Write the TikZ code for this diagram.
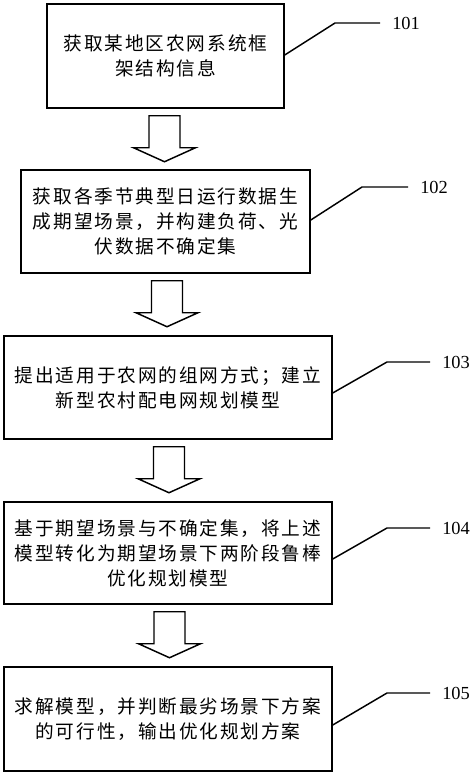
\documentclass[tikz,border=0pt]{standalone}
\usepackage{fontspec}
\setmainfont{Liberation Serif}
\newfontfamily\cjk[LetterSpace=10]{Noto Sans CJK SC}
\usetikzlibrary{calc}
\begin{document}
\begin{tikzpicture}[x=0.75pt,y=-0.75pt,
  box/.style={draw, line width=1.1pt, align=center, inner sep=0pt,
    font=\cjk\fontsize{14pt}{18.75pt}\selectfont},
  lbl/.style={font=\fontsize{13.8pt}{15pt}\selectfont, anchor=west, inner xsep=9pt, inner ysep=0pt},
  lead/.style={line width=1.1pt},
  arrowline/.style={draw, line width=1.1pt, line join=miter},
  barrow/.pic={\path[arrowline] (-15.5,0) -- (15.5,0) -- (15.5,32) -- (31,32) -- (0,46) -- (-31,32) -- (-15.5,32) -- cycle;}]
\useasboundingbox (0,0) rectangle (474,775);

\node[box, minimum width=177.75pt, minimum height=78pt] (b1) at (165.5,56)
  {获取某地区农网系统框\\架结构信息};
\node[box, minimum width=216.75pt, minimum height=77.25pt] (b2) at (165.5,221.5)
  {获取各季节典型日运行数据生\\成期望场景，并构建负荷、光\\伏数据不确定集};
\node[box, minimum width=246pt, minimum height=77.25pt] (b3) at (168,387.5)
  {提出适用于农网的组网方式；建立\\新型农村配电网规划模型};
\node[box, minimum width=246pt, minimum height=76.5pt] (b4) at (168,553)
  {基于期望场景与不确定集，将上述\\模型转化为期望场景下两阶段鲁棒\\优化规划模型};
\node[box, minimum width=246pt, minimum height=78pt] (b5) at (168,719)
  {求解模型，并判断最劣场景下方案\\的可行性，输出优化规划方案};

\node[lbl] (l1) at (380,23) {101};
\node[lbl] (l2) at (408,187) {102};
\node[lbl] (l3) at (430,362) {103};
\node[lbl] (l4) at (430,528) {104};
\node[lbl] (l5) at (430,693) {105};

\draw[lead] ([yshift=0.75pt]b1.east) -- ([xshift=-33.75pt]l1.west) -- (l1.west);
\draw[lead] ([yshift=1.1pt]b2.east) -- ([xshift=-34.5pt]l2.west) -- (l2.west);
\draw[lead] ([yshift=-4.1pt]b3.east) -- ([xshift=-32.25pt]l3.west) -- (l3.west);
\draw[lead] ([yshift=-4.5pt]b4.east) -- ([xshift=-32.25pt]l4.west) -- (l4.west);
\draw[lead] ([yshift=-4.5pt]b5.east) -- ([xshift=-32.25pt]l5.west) -- (l5.west);

\pic at ($(b1.south)+(-1,7)$) {barrow};
\pic at ($(b2.south)+(1.5,7)$) {barrow};
\pic at ($(b3.south)+(1,7)$) {barrow};
\pic at ($(b4.south)+(1.5,7)$) {barrow};
\end{tikzpicture}
\end{document}
